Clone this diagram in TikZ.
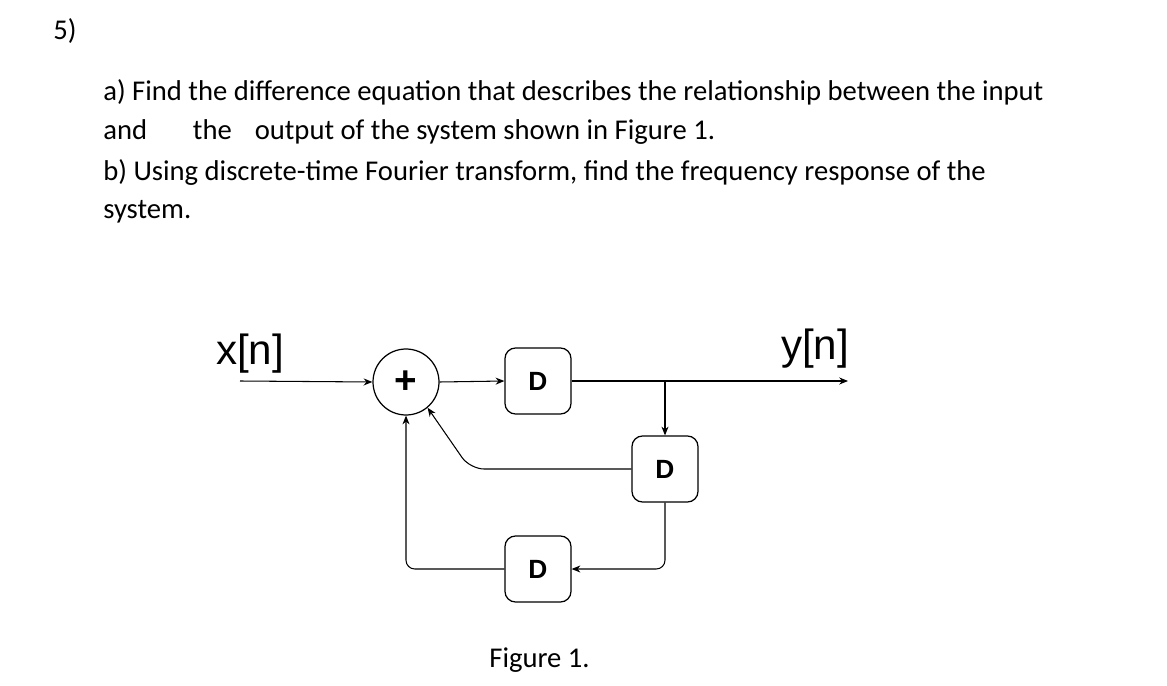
\documentclass[tikz,border=0pt]{standalone}
\usepackage{fontspec}
\usetikzlibrary{arrows.meta}
\setmainfont{Carlito}
\newfontfamily\arialf{Liberation Sans}
\begin{document}
\begin{tikzpicture}[x=0.02cm,y=-0.02cm,
  blk/.style={draw,rounded corners=6pt,minimum width=66*0.02cm,minimum height=66*0.02cm,font=\arialf\bfseries\fontsize{15}{16}\selectfont,line width=0.7pt},
  body/.style={anchor=west,font=\fontsize{16.3}{18}\selectfont,inner sep=0pt},
  wire/.style={line width=0.6pt},
  arr/.style={wire,-{Stealth[length=5pt,width=4pt]}}]
\useasboundingbox (0,0) rectangle (1167,686);
\node[body] (q) at (53,31) {5)};
\node[body] (l1) at (103,92) {a) Find the difference equation that describes the relationship between the input};
\node[body] (l2) at (103,132) {and\hspace{1.6em}the\hspace{0.8em}output of the system shown in Figure 1.};
\node[body] (l3) at (103,172) {b) Using discrete-time Fourier transform, find the frequency response of the};
\node[body] (l4) at (103,212) {system.};
\node[draw,circle,minimum size=66*0.02cm,inner sep=0pt,line width=0.7pt,font=\arialf\bfseries\fontsize{22}{22}\selectfont] (s) at (406,382) {+};
\node[blk] (d1) at (538,381) {D};
\node[blk] (d2) at (665,469) {D};
\node[blk] (d3) at (538,569) {D};
\node[font=\arialf\fontsize{24}{26}\selectfont,inner sep=0pt] (x) at (250,354) {x[n]};
\node[font=\arialf\fontsize{24}{26}\selectfont,inner sep=0pt] (y) at (815,349) {y[n]};
\node[body] (f) at (489,660) {Figure 1.};
\coordinate (xin) at (240,381);
\coordinate (j) at (665,381);
\coordinate (yout) at (848,381);
\draw[arr] (xin) -- (s.west);
\draw[arr] (s.east) -- (d1.west);
\draw[wire] (d1.east) -- (j);
\draw[arr] (j) -- (yout);
\draw[arr] (j) -- (d2.north);
\draw[arr,rounded corners=8pt] (d2.west) -- (470,469) -- (s.-50);
\draw[arr,rounded corners=5pt] (d2.south) -- (665,569) -- (d3.east);
\draw[arr,rounded corners=5pt] (d3.west) -- (406,569) -- (s.south);
\end{tikzpicture}
\end{document}
